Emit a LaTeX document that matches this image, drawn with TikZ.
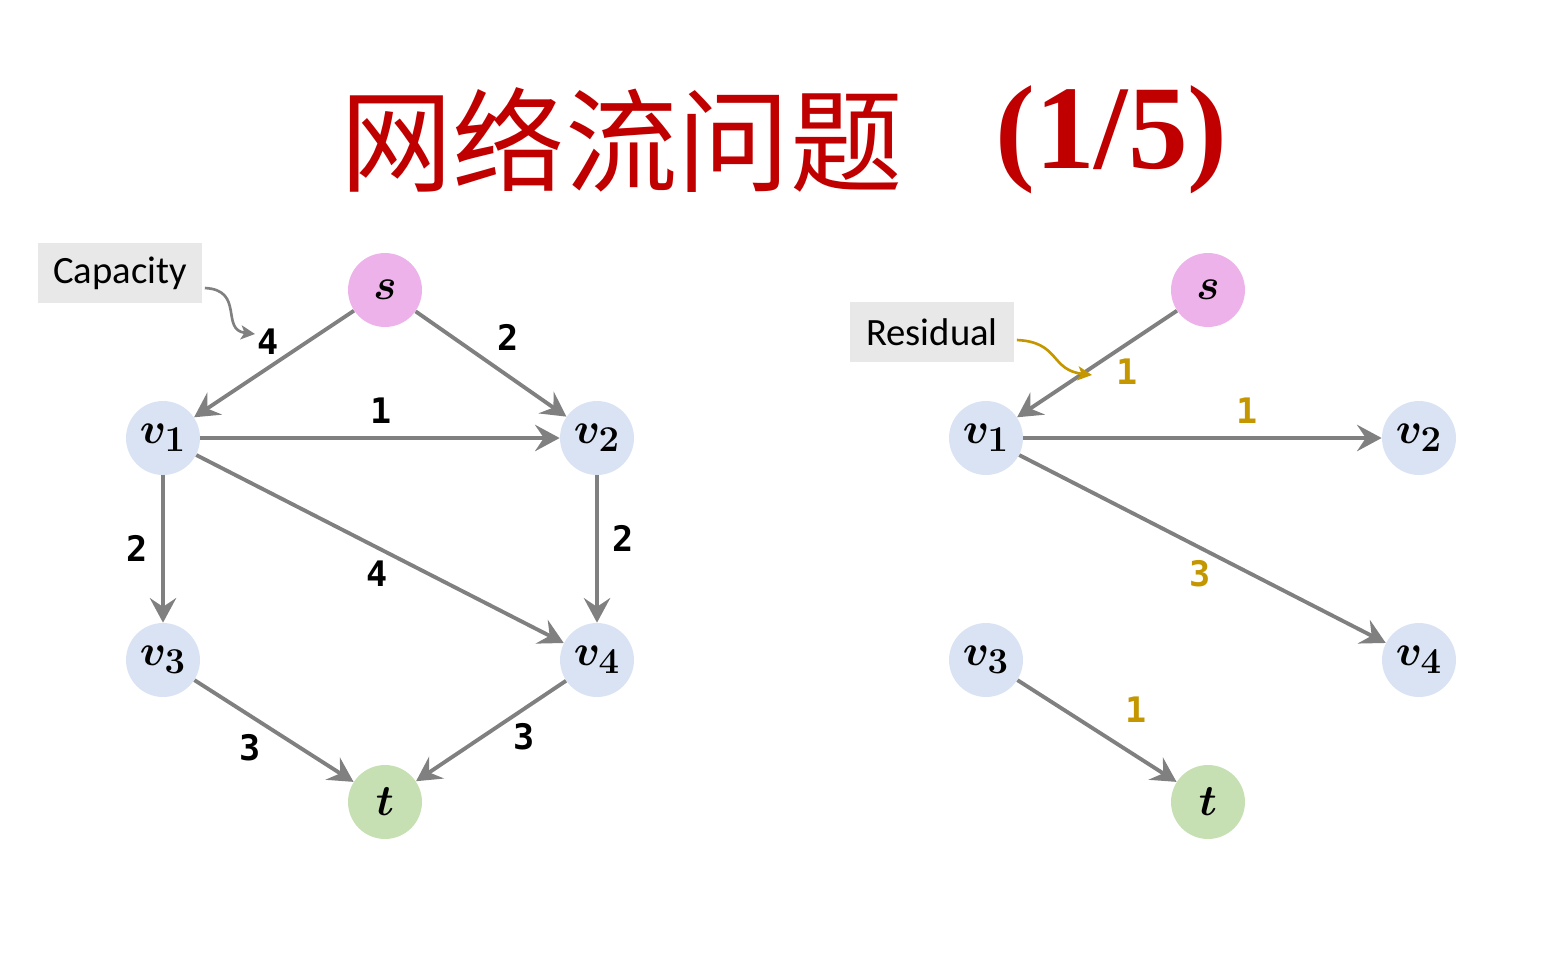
\documentclass[tikz,border=0pt]{standalone}
\usepackage{fontspec}
\setsansfont{Carlito}
\setmonofont{DejaVu Sans Mono}
\newfontfamily\cjk{Noto Sans CJK SC}
\newfontfamily\titleserif{Liberation Serif}
\usetikzlibrary{arrows.meta}
\definecolor{titlered}{RGB}{192,0,0}
\definecolor{edgegray}{RGB}{128,128,128}
\definecolor{resgold}{RGB}{196,150,0}
\definecolor{spink}{RGB}{237,178,234}
\definecolor{vblue}{RGB}{218,227,243}
\definecolor{tgreen}{RGB}{198,224,180}
\definecolor{boxgray}{RGB}{232,232,232}
\tikzset{
  vert/.style={circle,minimum size=1.48cm,inner sep=0pt,font=\fontsize{31}{34}\selectfont\boldmath},
  edge/.style={draw=edgegray,line width=2.2pt,-{Stealth[length=14pt,width=15pt,inset=5pt]}},
  wt/.style={font=\ttfamily\bfseries\fontsize{20}{22}\selectfont,inner sep=0pt},
  tag/.style={fill=boxgray,minimum width=3.3cm,minimum height=1.2cm,inner sep=0pt,font=\sffamily\fontsize{22}{25}\selectfont}
}
\begin{document}
\begin{tikzpicture}[x=0.02cm,y=-0.02cm]
\useasboundingbox (0,0) rectangle (1553,971);
\node[anchor=west,inner sep=0pt,text=titlered,font=\cjk\fontsize{64}{70}\selectfont] (title) at (340,140) {网络流问题};
\node[anchor=west,inner sep=0pt,text=titlered,font=\titleserif\bfseries\fontsize{68}{74}\selectfont] (titlepart) at (995,140) {(1/5)};

\node[vert,fill=spink] (s) at (385,290) {$s$};
\node[vert,fill=vblue] (v1) at (163,438) {$v_1$};
\node[vert,fill=vblue] (v2) at (597,438) {$v_2$};
\node[vert,fill=vblue] (v3) at (163,660) {$v_3$};
\node[vert,fill=vblue] (v4) at (597,660) {$v_4$};
\node[vert,fill=tgreen] (t) at (385,802) {$t$};
\draw[edge] (s) -- (v1);
\draw[edge] (s) -- (v2);
\draw[edge] (v1) -- (v2);
\draw[edge] (v1) -- (v3);
\draw[edge] (v1) -- (v4);
\draw[edge] (v2) -- (v4);
\draw[edge] (v3) -- (t);
\draw[edge] (v4) -- (t);
\node[wt] (wsv1) at (268,342) {4};
\node[wt] (wsv2) at (508,337) {2};
\node[wt] (wv1v2) at (381,411) {1};
\node[wt] (wv1v3) at (137,548) {2};
\node[wt] (wv2v4) at (623,538) {2};
\node[wt] (wv1v4) at (377,574) {4};
\node[wt] (wv3t) at (250,748) {3};
\node[wt] (wv4t) at (524,737) {3};
\node[tag] (cap) at (120,273) {Capacity};
\coordinate (capend) at (255,334);
\draw[draw=edgegray,line width=1.5pt,-{Stealth[length=8pt,width=8pt,inset=2pt]}] (cap.east) ++(2,15) .. controls (245,290) and (220,330) .. (capend);

\node[vert,fill=spink] (rs) at (1208,290) {$s$};
\node[vert,fill=vblue] (rv1) at (986,438) {$v_1$};
\node[vert,fill=vblue] (rv2) at (1419,438) {$v_2$};
\node[vert,fill=vblue] (rv3) at (986,660) {$v_3$};
\node[vert,fill=vblue] (rv4) at (1419,660) {$v_4$};
\node[vert,fill=tgreen] (rt) at (1208,802) {$t$};
\draw[edge] (rs) -- (rv1);
\draw[edge] (rv1) -- (rv2);
\draw[edge] (rv1) -- (rv4);
\draw[edge] (rv3) -- (rt);
\node[wt,text=resgold] (rsv1) at (1127,372) {1};
\node[wt,text=resgold] (rv1v2) at (1247,411) {1};
\node[wt,text=resgold] (rv1v4) at (1200,574) {3};
\node[wt,text=resgold] (rv3t) at (1136,710) {1};
\node[tag] (res) at (932,332) {Residual};
\coordinate (resend) at (1092,375);
\draw[draw=resgold,line width=1.5pt,-{Stealth[length=8pt,width=8pt,inset=2pt]}] (res.east) ++(2,8) .. controls (1060,342) and (1050,370) .. (resend);
\end{tikzpicture}
\end{document}
